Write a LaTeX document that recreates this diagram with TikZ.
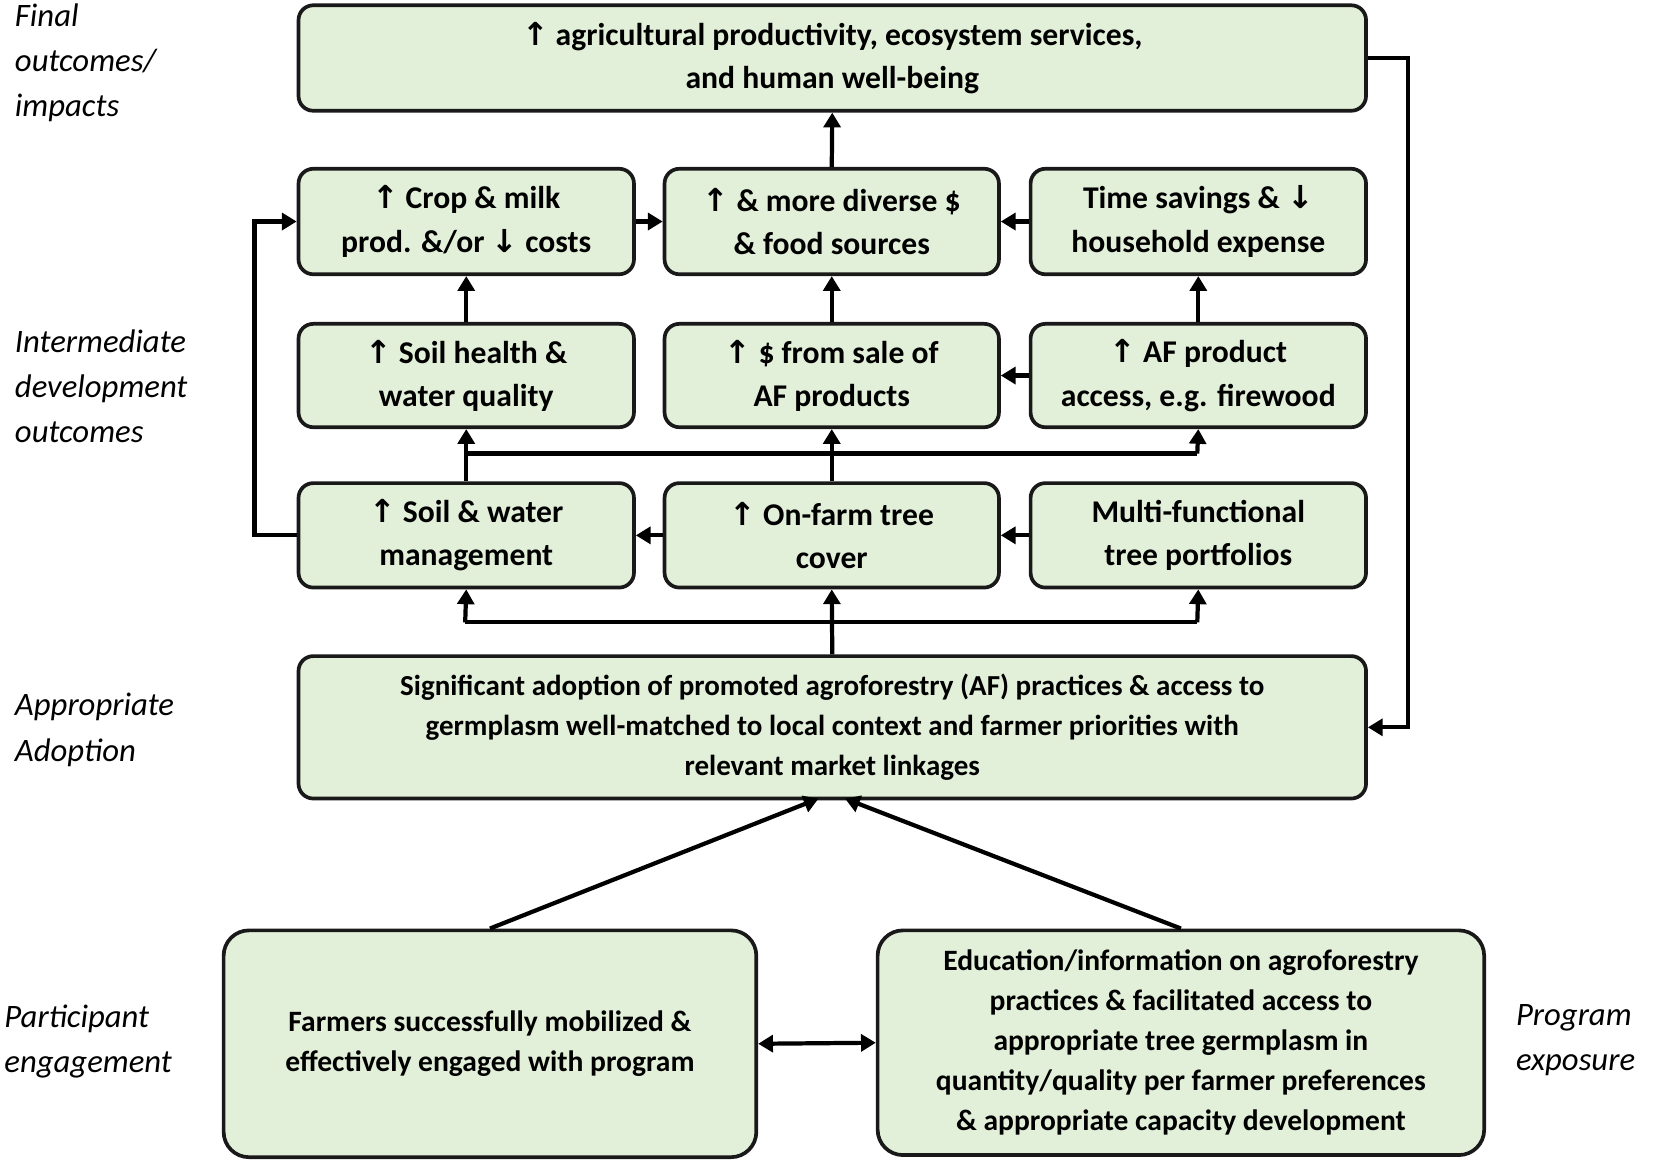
\documentclass[tikz,border=0pt]{standalone}
\usepackage{fontspec}
\setmainfont{Carlito}
\newfontfamily\arrfont{DejaVu Sans}
\newcommand{\upa}{{\arrfont\bfseries\char"2191}}
\newcommand{\dna}{{\arrfont\bfseries\char"2193}}
\usetikzlibrary{arrows.meta}
\definecolor{boxg}{HTML}{E2EFD9}
\tikzset{
 bx/.style={draw=black!90,line width=3.5pt,rounded corners=14pt,fill=boxg,align=center,font=\fontsize{30}{41}\selectfont\bfseries,inner sep=0pt},
 lab/.style={align=left,anchor=north west,font=\fontsize{31}{43}\selectfont\itshape,inner sep=0pt},
 ar/.style={line width=4pt,-{Triangle[length=14pt,width=16pt]}},
 ln/.style={line width=4pt}
}
\begin{document}
\begin{tikzpicture}[x=1pt,y=-1pt]
\useasboundingbox (0,0) rectangle (1568,1100);
\newcommand{\bxn}[6]{\node[bx,minimum width={#4-#2},minimum height={#5-#3}] (#1) at ({(#2+#4)/2},{(#3+#5)/2}) {#6};}
\bxn{top}{283}{5}{1295}{105}{\upa\ agricultural productivity, ecosystem services,\\and human well-being}
\bxn{a1}{283}{160}{601}{260}{\upa\ Crop \& milk\\prod. \&/or \dna\ costs}
\bxn{b1}{630}{160}{947}{260}{\upa\ \& more diverse \$\\\& food sources}
\bxn{c1}{977}{160}{1295}{260}{Time savings \& \dna\\household expense}
\bxn{a2}{283}{307}{601}{405}{\upa\ Soil health \&\\water quality}
\bxn{b2}{630}{307}{947}{405}{\upa\ \$ from sale of\\AF products}
\bxn{c2}{977}{307}{1295}{405}{\upa\ AF product\\access, e.g. firewood}
\bxn{a3}{283}{458}{601}{557}{\upa\ Soil \& water\\management}
\bxn{b3}{630}{458}{947}{557}{\upa\ On-farm tree\\cover}
\bxn{c3}{977}{458}{1295}{557}{Multi-functional\\tree portfolios}
\node[bx,minimum width=1012,minimum height=135,font=\fontsize{27.5}{38}\selectfont\bfseries] (ad) at (789,689.5) {Significant adoption of promoted agroforestry (AF) practices \& access to\\germplasm well-matched to local context and farmer priorities with\\relevant market linkages};
\node[bx,minimum width=505,minimum height=215,rounded corners=24pt,font=\fontsize{28}{38}\selectfont\bfseries] (fa) at (464.5,989.5) {Farmers successfully mobilized \&\\effectively engaged with program};
\node[bx,minimum width=575,minimum height=213,rounded corners=24pt,font=\fontsize{28}{38}\selectfont\bfseries] (ed) at (1119.5,988.5) {Education/information on agroforestry\\practices \& facilitated access to\\appropriate tree germplasm in\\quantity/quality per farmer preferences\\\& appropriate capacity development};
\node[lab] (l1) at (14,3) {Final\\outcomes/\\impacts};
\node[lab] (l2) at (14,312) {Intermediate\\development\\outcomes};
\node[lab] (l3) at (14,657) {Appropriate\\Adoption};
\node[lab] (l4) at (4,952) {Participant\\engagement};
\node[lab] (l5) at (1437,952) {Program\\exposure};
% connectors
\draw[ar] (top.east) -- ++(38,0) |- (ad.east);
\draw[ar] (b1.north) -- (top.south);
\draw[ar] (a1.east) -- (b1.west);
\draw[ar] (c1.west) -- (b1.east);
\draw[ar] (a2.north) -- (a1.south);
\draw[ar] (b2.north) -- (b1.south);
\draw[ar] (c2.north) -- (c1.south);
\draw[ar] (c2.west) -- (b2.east);
\draw[ar] (b3.north) -- (b2.south);
\draw[ar] (a3.north) -- (a2.south);
\coordinate (h1) at (441,430);
\coordinate (h2) at (1135,430);
\draw[ln] (h1) -- (h2);
\draw[ar] (h2) -- (c2.south);
\draw[ar] (c3.west) -- (b3.east);
\draw[ar] (b3.west) -- (a3.east);
\draw[ar] (a3.west) -- ++(-40,0) |- (a1.west);
\draw[ar] (ad.north) -- (b3.south);
\coordinate (g1) at (441,590);
\coordinate (g2) at (1135,590);
\draw[ln] (g1) -- (g2);
\draw[ar] (g1) -- (a3.south);
\draw[ar] (g2) -- (c3.south);
\draw[ar] (fa.north) -- (776,757);
\draw[ar] (ed.north) -- (801,757);
\draw[line width=4pt,{Triangle[length=14pt,width=16pt]}-{Triangle[length=14pt,width=16pt]}] (fa.east) -- (ed.east -| ed.west);
\end{tikzpicture}
\end{document}
